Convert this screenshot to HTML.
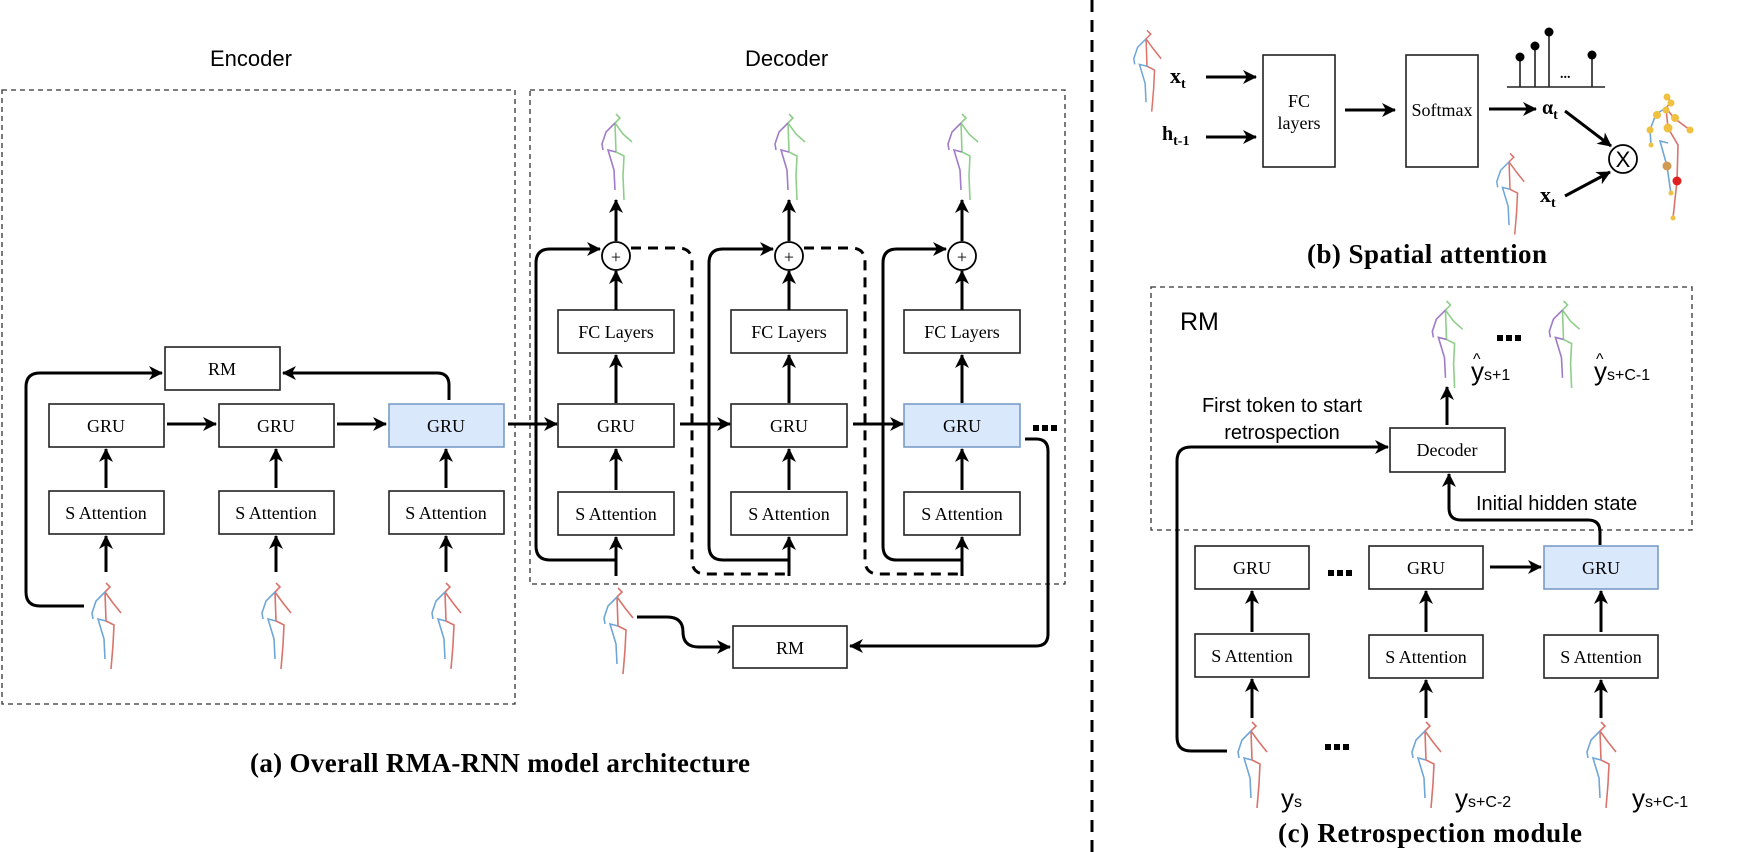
<!DOCTYPE html>
<html><head><meta charset="utf-8"><style>
html,body{margin:0;padding:0;background:#fff;}
svg{display:block;}
.box{fill:#fff;stroke:#222;stroke-width:1.6;}
.blue{fill:#dae8fc;stroke:#7a9cc8;stroke-width:1.6;}
.t{font-family:"Liberation Serif",serif;font-size:18px;fill:#000;text-anchor:middle;}
.s{font-family:"Liberation Sans",sans-serif;fill:#000;}
.ln{fill:none;stroke:#000;stroke-width:3;}
.dl{fill:none;stroke:#000;stroke-width:3;stroke-dasharray:10 7;}
.thin{fill:none;stroke:#333;stroke-width:1.3;stroke-dasharray:5 4;}
.cap{font-family:"Liberation Serif",serif;font-weight:bold;font-size:27px;fill:#000;}
</style></head><body>
<svg width="1752" height="852" viewBox="0 0 1752 852" xmlns="http://www.w3.org/2000/svg">
<defs>
<marker id="a" markerUnits="userSpaceOnUse" markerWidth="16" markerHeight="16" refX="13" refY="8" orient="auto">
<path d="M0,1 L14,8 L0,15 L4,8 Z" fill="#000"/></marker>
<symbol id="sk" viewBox="0 0 36 86" overflow="visible">
<g fill="none" stroke-width="1.6">
<polyline stroke="#d9736b" points="18,0 22,4 17,9 18,38 26,42 25,62 23,86"/>
<polyline stroke="#d9736b" points="17,9 25,20 33,30"/>
<polyline stroke="#6fa6d8" points="17,9 8,18 4,30 5,36"/>
<polyline stroke="#6fa6d8" points="18,38 10,36 16,56 17,76"/>
</g></symbol>
<symbol id="sg" viewBox="0 0 36 86" overflow="visible">
<g fill="none" stroke-width="1.6">
<polyline stroke="#8fcf8a" points="18,0 22,4 17,9 18,38 26,42 25,62 26,86"/>
<polyline stroke="#8fcf8a" points="17,9 25,20 34,28"/>
<polyline stroke="#a07cc8" points="17,9 8,18 4,30 5,36"/>
<polyline stroke="#a07cc8" points="18,38 10,36 16,56 17,76"/>
</g></symbol>
</defs>

<!-- (a) -->
<text class="s" x="210" y="66" font-size="22">Encoder</text>
<text class="s" x="745" y="66" font-size="22">Decoder</text>
<rect class="thin" x="2" y="90" width="513" height="614"/>
<rect class="thin" x="530" y="90" width="535" height="494"/>

<rect class="box" x="165" y="347" width="115" height="43"/><text class="t" x="222" y="375">RM</text>
<rect class="box" x="49" y="404" width="115" height="43"/><text class="t" x="106" y="432">GRU</text>
<rect class="box" x="219" y="404" width="115" height="43"/><text class="t" x="276" y="432">GRU</text>
<rect class="blue" x="389" y="404" width="115" height="43"/><text class="t" x="446" y="432">GRU</text>
<rect class="box" x="49" y="491" width="115" height="43"/><text class="t" x="106" y="519">S Attention</text>
<rect class="box" x="219" y="491" width="115" height="43"/><text class="t" x="276" y="519">S Attention</text>
<rect class="box" x="389" y="491" width="115" height="43"/><text class="t" x="446" y="519">S Attention</text>
<path class="ln" marker-end="url(#a)" d="M106 572 V536"/>
<path class="ln" marker-end="url(#a)" d="M276 572 V536"/>
<path class="ln" marker-end="url(#a)" d="M446 572 V536"/>
<path class="ln" marker-end="url(#a)" d="M106 488 V449"/>
<path class="ln" marker-end="url(#a)" d="M276 488 V449"/>
<path class="ln" marker-end="url(#a)" d="M446 488 V449"/>
<path class="ln" marker-end="url(#a)" d="M167 424 H216"/>
<path class="ln" marker-end="url(#a)" d="M337 424 H386"/>
<path class="ln" marker-end="url(#a)" d="M84 606 H40 Q26 606 26 592 V387 Q26 373 40 373 H162"/>
<path class="ln" marker-end="url(#a)" d="M449 400 V385 Q449 373 437 373 H283"/>
<use href="#sk" x="88" y="583" width="36" height="86"/>
<use href="#sk" x="258" y="583" width="36" height="86"/>
<use href="#sk" x="428" y="583" width="36" height="86"/>

<!-- decoder columns -->
<g>
<rect class="box" x="558" y="310" width="116" height="43"/><text class="t" x="616" y="338">FC Layers</text>
<rect class="box" x="558" y="404" width="116" height="43"/><text class="t" x="616" y="432">GRU</text>
<rect class="box" x="558" y="492" width="116" height="43"/><text class="t" x="616" y="520">S Attention</text>
<rect class="box" x="731" y="310" width="116" height="43"/><text class="t" x="789" y="338">FC Layers</text>
<rect class="box" x="731" y="404" width="116" height="43"/><text class="t" x="789" y="432">GRU</text>
<rect class="box" x="731" y="492" width="116" height="43"/><text class="t" x="789" y="520">S Attention</text>
<rect class="box" x="904" y="310" width="116" height="43"/><text class="t" x="962" y="338">FC Layers</text>
<rect class="blue" x="904" y="404" width="116" height="43"/><text class="t" x="962" y="432">GRU</text>
<rect class="box" x="904" y="492" width="116" height="43"/><text class="t" x="962" y="520">S Attention</text>
</g>
<g>
<circle cx="616" cy="256" r="14" fill="#fff" stroke="#000" stroke-width="1.8"/><text class="t" x="616" y="263" font-size="20">+</text>
<circle cx="789" cy="256" r="14" fill="#fff" stroke="#000" stroke-width="1.8"/><text class="t" x="789" y="263" font-size="20">+</text>
<circle cx="962" cy="256" r="14" fill="#fff" stroke="#000" stroke-width="1.8"/><text class="t" x="962" y="263" font-size="20">+</text>
</g>
<path class="ln" marker-end="url(#a)" d="M616 310 V271"/>
<path class="ln" marker-end="url(#a)" d="M789 310 V271"/>
<path class="ln" marker-end="url(#a)" d="M962 310 V271"/>
<path class="ln" marker-end="url(#a)" d="M616 241 V200"/>
<path class="ln" marker-end="url(#a)" d="M789 241 V200"/>
<path class="ln" marker-end="url(#a)" d="M962 241 V200"/>
<path class="ln" marker-end="url(#a)" d="M616 403 V355"/>
<path class="ln" marker-end="url(#a)" d="M789 403 V355"/>
<path class="ln" marker-end="url(#a)" d="M962 403 V355"/>
<path class="ln" marker-end="url(#a)" d="M616 490 V449"/>
<path class="ln" marker-end="url(#a)" d="M789 490 V449"/>
<path class="ln" marker-end="url(#a)" d="M962 490 V449"/>
<path class="ln" marker-end="url(#a)" d="M616 576 V537"/>
<path class="ln" marker-end="url(#a)" d="M789 576 V537"/>
<path class="ln" marker-end="url(#a)" d="M962 576 V537"/>
<path class="ln" marker-end="url(#a)" d="M616 560 H550 Q536 560 536 546 V263 Q536 249 550 249 H600"/>
<path class="ln" marker-end="url(#a)" d="M789 560 H723 Q709 560 709 546 V263 Q709 249 723 249 H773"/>
<path class="ln" marker-end="url(#a)" d="M962 560 H897 Q883 560 883 546 V263 Q883 249 897 249 H946"/>
<path class="dl" d="M631 248 H678 Q692 248 692 262 V560 Q692 574 706 574 H789"/>
<path class="dl" d="M804 248 H851 Q865 248 865 262 V560 Q865 574 879 574 H962"/>
<path class="ln" marker-end="url(#a)" d="M508 424 H557"/>
<path class="ln" marker-end="url(#a)" d="M680 424 H730"/>
<path class="ln" marker-end="url(#a)" d="M853 424 H903"/>
<g fill="#000"><rect x="1033" y="425" width="6" height="6"/><rect x="1042" y="425" width="6" height="6"/><rect x="1051" y="425" width="6" height="6"/></g>
<use href="#sg" x="598" y="114" width="36" height="86"/>
<use href="#sg" x="771" y="114" width="36" height="86"/>
<use href="#sg" x="944" y="114" width="36" height="86"/>
<use href="#sk" x="600" y="588" width="36" height="86"/>
<rect class="box" x="733" y="626" width="114" height="42"/><text class="t" x="790" y="654">RM</text>
<path class="ln" marker-end="url(#a)" d="M1025 439 H1036 Q1048 439 1048 451 V634 Q1048 646 1036 646 H850"/>
<path class="ln" marker-end="url(#a)" d="M637 617 H667 Q683 617 683 632 Q683 647 699 647 H730"/>
<text class="cap" x="250" y="772" textLength="500">(a) Overall RMA-RNN model architecture</text>

<!-- divider -->
<path d="M1092 0 V852" stroke="#000" stroke-width="3" stroke-dasharray="12 8"/>

<!-- (b) -->
<use href="#sk" x="1130" y="28" width="34" height="86"/>
<text x="1170" y="83" font-family="Liberation Serif,serif" font-weight="bold" font-size="22">x<tspan font-size="14" dy="5">t</tspan></text>
<text x="1162" y="140" font-family="Liberation Serif,serif" font-weight="bold" font-size="20">h<tspan font-size="14" dy="5">t-1</tspan></text>
<path class="ln" marker-end="url(#a)" d="M1206 77 H1256"/>
<path class="ln" marker-end="url(#a)" d="M1206 137 H1256"/>
<rect class="box" x="1263" y="55" width="72" height="112"/>
<text class="t" x="1299" y="107">FC</text><text class="t" x="1299" y="129">layers</text>
<path class="ln" marker-end="url(#a)" d="M1345 110 H1395"/>
<rect class="box" x="1406" y="55" width="72" height="112"/><text class="t" x="1442" y="116">Softmax</text>
<path class="ln" marker-end="url(#a)" d="M1489 109 H1536"/>
<text x="1542" y="114" font-family="Liberation Serif,serif" font-weight="bold" font-size="20">α<tspan font-size="14" dy="5">t</tspan></text>
<g stroke="#222" stroke-width="1.6">
<path d="M1507 87 H1605"/><path d="M1520 87 V57 M1535 87 V46 M1549 87 V32 M1592 87 V55"/></g>
<g fill="#000"><circle cx="1520" cy="57" r="4.5"/><circle cx="1535" cy="46" r="4.5"/><circle cx="1549" cy="32" r="4.5"/><circle cx="1592" cy="55" r="4.5"/></g>
<text x="1560" y="78" font-family="Liberation Serif,serif" font-weight="bold" font-size="14">...</text>
<path class="ln" marker-end="url(#a)" d="M1565 111 L1611 146"/>
<path class="ln" marker-end="url(#a)" d="M1565 196 L1610 172"/>
<circle cx="1623" cy="159" r="14" fill="#fff" stroke="#000" stroke-width="1.8"/>
<text class="s" x="1623" y="167" font-size="22" text-anchor="middle">X</text>
<text x="1540" y="202" font-family="Liberation Serif,serif" font-weight="bold" font-size="22">x<tspan font-size="14" dy="5">t</tspan></text>
<use href="#sk" x="1493" y="150" width="34" height="88"/>
<g fill="none" stroke-width="1.6">
<polyline stroke="#d9736b" points="1667,97 1671,102 1666,108 1668,128 1678,145 1677,181 1673,218"/>
<polyline stroke="#d9736b" points="1666,108 1674,118 1690,130"/>
<polyline stroke="#6fa6d8" points="1666,108 1656,114 1650,130 1651,145"/>
<polyline stroke="#6fa6d8" points="1668,143 1660,141 1667,166 1671,194"/>
</g>
<g fill="#f0c040"><circle cx="1667" cy="97" r="3.5"/><circle cx="1671" cy="103" r="3.5"/><circle cx="1666" cy="110" r="3.5"/><circle cx="1657" cy="115" r="4"/><circle cx="1675" cy="118" r="4"/><circle cx="1690" cy="130" r="3.5"/><circle cx="1668" cy="128" r="4.5"/><circle cx="1650" cy="130" r="3.5"/><circle cx="1651" cy="145" r="2.5"/><circle cx="1671" cy="193" r="2.5"/><circle cx="1673" cy="218" r="2.5"/></g>
<circle cx="1667" cy="166" r="4.5" fill="#d09a50"/>
<circle cx="1677" cy="181" r="4.5" fill="#e02020"/>
<text class="cap" x="1307" y="263" textLength="240">(b) Spatial attention</text>

<!-- (c) -->
<rect class="thin" x="1151" y="287" width="541" height="243"/>
<text class="s" x="1180" y="330" font-size="25">RM</text>
<use href="#sg" x="1428" y="301" width="37" height="87"/>
<use href="#sg" x="1545" y="301" width="37" height="87"/>
<g fill="#000"><rect x="1497" y="335" width="6" height="6"/><rect x="1506" y="335" width="6" height="6"/><rect x="1515" y="335" width="6" height="6"/></g>
<text class="s" x="1471" y="380" font-size="26">y<tspan font-size="16" dy="0">s+1</tspan></text>
<text class="s" x="1473" y="364" font-size="16">^</text>
<text class="s" x="1594" y="380" font-size="26">y<tspan font-size="16">s+C-1</tspan></text>
<text class="s" x="1596" y="364" font-size="16">^</text>
<rect class="box" x="1390" y="428" width="115" height="44"/><text class="t" x="1447" y="456" font-size="17">Decoder</text>
<path class="ln" marker-end="url(#a)" d="M1447 425 V387"/>
<text class="s" x="1282" y="412" font-size="20" text-anchor="middle">First token to start</text>
<text class="s" x="1282" y="439" font-size="20" text-anchor="middle">retrospection</text>
<path class="ln" marker-end="url(#a)" d="M1227 751 H1191 Q1177 751 1177 737 V461 Q1177 447 1191 447 H1388"/>
<text class="s" x="1476" y="510" font-size="20">Initial hidden state</text>
<path class="ln" marker-end="url(#a)" d="M1600 545 V532 Q1600 520 1588 520 H1461 Q1449 520 1449 508 V474"/>
<rect class="box" x="1195" y="546" width="114" height="43"/><text class="t" x="1252" y="574">GRU</text>
<rect class="box" x="1369" y="546" width="114" height="43"/><text class="t" x="1426" y="574">GRU</text>
<rect class="blue" x="1544" y="546" width="114" height="43"/><text class="t" x="1601" y="574">GRU</text>
<rect class="box" x="1195" y="634" width="114" height="43"/><text class="t" x="1252" y="662">S Attention</text>
<rect class="box" x="1369" y="635" width="114" height="43"/><text class="t" x="1426" y="663">S Attention</text>
<rect class="box" x="1544" y="635" width="114" height="43"/><text class="t" x="1601" y="663">S Attention</text>
<path class="ln" marker-end="url(#a)" d="M1490 567 H1541"/>
<g fill="#000"><rect x="1328" y="570" width="6" height="6"/><rect x="1337" y="570" width="6" height="6"/><rect x="1346" y="570" width="6" height="6"/>
<rect x="1325" y="744" width="6" height="6"/><rect x="1334" y="744" width="6" height="6"/><rect x="1343" y="744" width="6" height="6"/></g>
<path class="ln" marker-end="url(#a)" d="M1252 632 V591"/>
<path class="ln" marker-end="url(#a)" d="M1426 632 V591"/>
<path class="ln" marker-end="url(#a)" d="M1601 632 V591"/>
<path class="ln" marker-end="url(#a)" d="M1252 718 V679"/>
<path class="ln" marker-end="url(#a)" d="M1426 718 V680"/>
<path class="ln" marker-end="url(#a)" d="M1601 718 V680"/>
<use href="#sk" x="1234" y="722" width="36" height="86"/>
<use href="#sk" x="1408" y="722" width="36" height="86"/>
<use href="#sk" x="1583" y="722" width="36" height="86"/>
<text class="s" x="1281" y="807" font-size="26">y<tspan font-size="16">s</tspan></text>
<text class="s" x="1455" y="807" font-size="26">y<tspan font-size="16">s+C-2</tspan></text>
<text class="s" x="1632" y="807" font-size="26">y<tspan font-size="16">s+C-1</tspan></text>
<text class="cap" x="1278" y="842" textLength="304">(c) Retrospection module</text>
</svg>
</body></html>
